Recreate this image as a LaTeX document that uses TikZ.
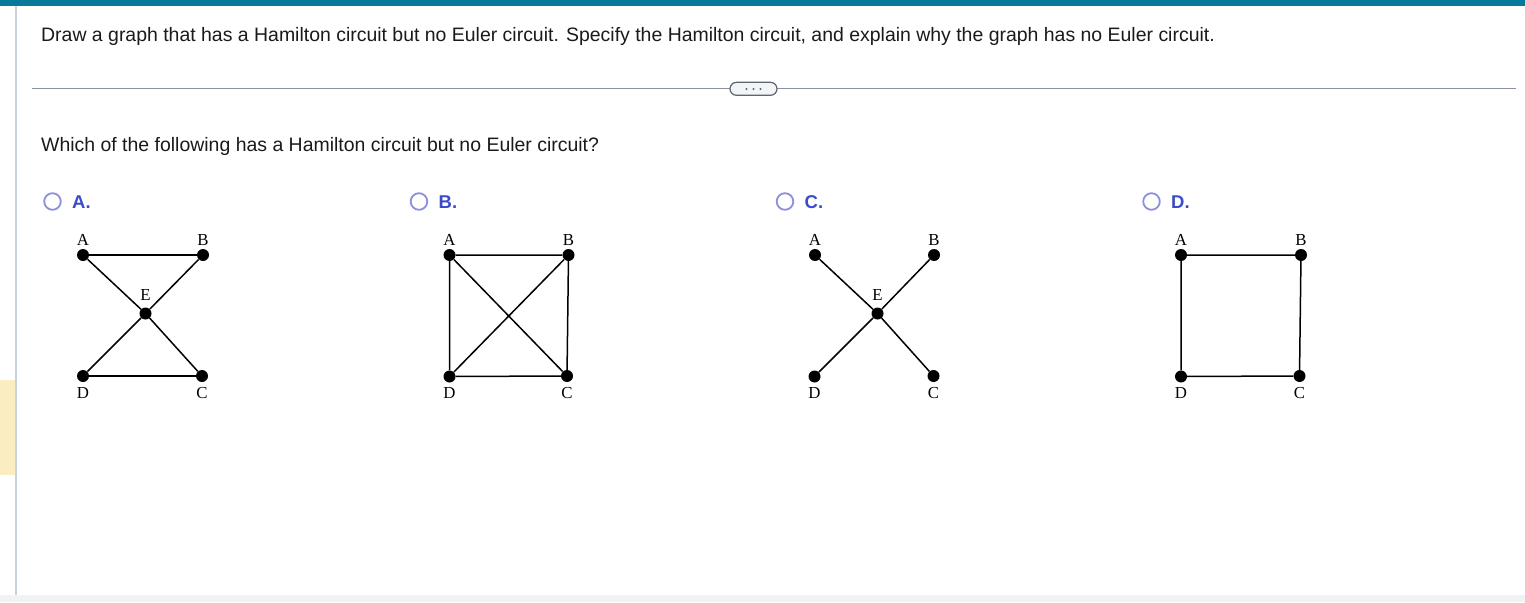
\documentclass[tikz,border=0pt]{standalone}
\usepackage{fontspec}
\setmainfont{Liberation Sans}
\newfontfamily\graphfont{Liberation Serif}
\usetikzlibrary{positioning}
\definecolor{topbar}{HTML}{077A9B}
\definecolor{frameline}{HTML}{C9D1DD}
\definecolor{flag}{HTML}{FAEDC2}
\definecolor{footband}{HTML}{F1F2F3}
\definecolor{rule}{HTML}{8A929E}
\definecolor{btnfill}{HTML}{F3F4F6}
\definecolor{btnline}{HTML}{5C6670}
\definecolor{radio}{HTML}{8C90DA}
\definecolor{optblue}{HTML}{3A4CC9}
\definecolor{qtext}{HTML}{1A1A1A}
\begin{document}
\begin{tikzpicture}[x=1pt,y=-1pt,
	vtx/.style={circle,fill=black,inner sep=0pt,minimum size=12pt},
	lbl/.style={inner sep=0pt,font=\graphfont\fontsize{16.8}{17}\selectfont},
	edge/.style={line width=1.5pt},
	txt/.style={anchor=base west,inner sep=0pt,text=qtext,font=\fontsize{19.45}{24}\selectfont},
	opt/.style={anchor=base west,inner sep=0pt,text=optblue,font=\bfseries\fontsize{18.5}{22}\selectfont}]
	\useasboundingbox(0,0)rectangle(1525,602);
	\fill[white](0,0)rectangle(1525,602);
	\fill[topbar](0,0)rectangle(1525,6);
	\fill[flag](0,380)rectangle(15.5,475);
	\draw[frameline,line width=1.2pt](16,6)--(16,595);
	\fill[footband](0,595)rectangle(1525,602);
	\node[txt](title)at(41,41.3){Draw a graph that has a Hamilton circuit but no Euler circuit. Specify the Hamilton circuit, and explain why the graph has no Euler circuit.};
	\draw[rule,line width=1pt](32,88.5)--(1516,88.5);
	\node[draw=btnline,fill=btnfill,line width=1.2pt,rounded corners=6.5pt,minimum width=47pt,minimum height=13pt,inner sep=0pt](more)at(753.5,88.8){};
	\foreach \d in {-7,0,7}
		\fill[btnline](753.5+\d,89)circle(1.1);
	\node[txt](question)at(41,151.5){Which of the following has a Hamilton circuit but no Euler circuit?};
	\foreach \x/\l in {52.5/A,419/B,785/C,1151.5/D}{
		\draw[radio,line width=1.8pt](\x,201.5)circle(8.3);
		\node[opt](opt\l)at(\x+19.5,208.5){\l.};
	}
	\node[vtx](aA)at(83,255){};
	\node[vtx](aB)at(203,255){};
	\node[vtx](aE)at(145.5,313.5){};
	\node[vtx](aD)at(83,376){};
	\node[vtx](aC)at(202,376){};
	\node[lbl,above=3pt of aA](aAl){A};
	\node[lbl,above=3pt of aB](aBl){B};
	\node[lbl,above=7pt of aE](aEl){E};
	\node[lbl,below=5pt of aD](aDl){D};
	\node[lbl,below=5pt of aC](aCl){C};
	\draw[edge](aA)--(aB);
	\draw[edge](aA)--(aE)--(aC);
	\draw[edge](aB)--(aE)--(aD);
	\draw[edge](aD)--(aC);
	\node[vtx](bA)at(449.5,255){};
	\node[vtx](bB)at(568.5,255){};
	\node[vtx](bD)at(449.5,376.5){};
	\node[vtx](bC)at(567,376){};
	\node[lbl,above=3pt of bA](bAl){A};
	\node[lbl,above=3pt of bB](bBl){B};
	\node[lbl,below=5pt of bD](bDl){D};
	\node[lbl,below=5pt of bC](bCl){C};
	\draw[edge](bA)--(bB)--(bC)--(bD)--(bA);
	\draw[edge](bA)--(bC);
	\draw[edge](bB)--(bD);
	\node[vtx](cA)at(815,255){};
	\node[vtx](cB)at(934,255){};
	\node[vtx](cE)at(877.5,313.5){};
	\node[vtx](cD)at(814.5,376.5){};
	\node[vtx](cC)at(933.5,376){};
	\node[lbl,above=3pt of cA](cAl){A};
	\node[lbl,above=3pt of cB](cBl){B};
	\node[lbl,above=7pt of cE](cEl){E};
	\node[lbl,below=5pt of cD](cDl){D};
	\node[lbl,below=5pt of cC](cCl){C};
	\draw[edge](cA)--(cE)--(cC);
	\draw[edge](cB)--(cE)--(cD);
	\node[vtx](dA)at(1181,255){};
	\node[vtx](dB)at(1301,255){};
	\node[vtx](dD)at(1181,376.5){};
	\node[vtx](dC)at(1299.5,376){};
	\node[lbl,above=3pt of dA](dAl){A};
	\node[lbl,above=3pt of dB](dBl){B};
	\node[lbl,below=5pt of dD](dDl){D};
	\node[lbl,below=5pt of dC](dCl){C};
	\draw[edge](dA)--(dB)--(dC)--(dD)--(dA);
\end{tikzpicture}
\end{document}
